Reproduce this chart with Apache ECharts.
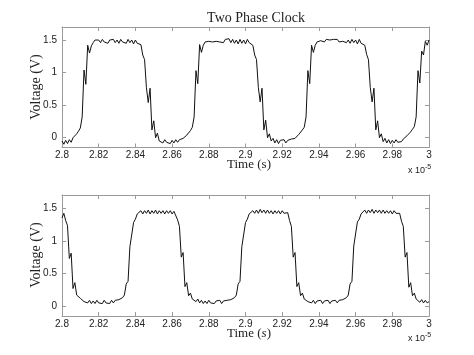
<!DOCTYPE html>
<html>
<head>
<meta charset="utf-8">
<script src="https://cdn.jsdelivr.net/npm/echarts@6/dist/echarts.min.js"></script>
<style>
html,body{margin:0;padding:0;background:#fff;}
#chart{width:474px;height:355px;}
</style>
</head>
<body>
<div id="chart"></div>
<script>
// Time axis samples (x 10^-5 s)
var time = [
2.800,2.801,2.802,2.803,2.804,2.805,2.806,2.807,2.808,2.809,
2.810,2.811,2.812,2.813,2.814,2.815,2.816,2.817,2.818,2.819,
2.820,2.821,2.822,2.823,2.824,2.825,2.826,2.827,2.828,2.829,
2.830,2.831,2.832,2.833,2.834,2.835,2.836,2.837,2.838,2.839,
2.840,2.841,2.842,2.843,2.844,2.845,2.846,2.847,2.848,2.849,
2.850,2.851,2.852,2.853,2.854,2.855,2.856,2.857,2.858,2.859,
2.860,2.861,2.862,2.863,2.864,2.865,2.866,2.867,2.868,2.869,
2.870,2.871,2.872,2.873,2.874,2.875,2.876,2.877,2.878,2.879,
2.880,2.881,2.882,2.883,2.884,2.885,2.886,2.887,2.888,2.889,
2.890,2.891,2.892,2.893,2.894,2.895,2.896,2.897,2.898,2.899,
2.900,2.901,2.902,2.903,2.904,2.905,2.906,2.907,2.908,2.909,
2.910,2.911,2.912,2.913,2.914,2.915,2.916,2.917,2.918,2.919,
2.920,2.921,2.922,2.923,2.924,2.925,2.926,2.927,2.928,2.929,
2.930,2.931,2.932,2.933,2.934,2.935,2.936,2.937,2.938,2.939,
2.940,2.941,2.942,2.943,2.944,2.945,2.946,2.947,2.948,2.949,
2.950,2.951,2.952,2.953,2.954,2.955,2.956,2.957,2.958,2.959,
2.960,2.961,2.962,2.963,2.964,2.965,2.966,2.967,2.968,2.969,
2.970,2.971,2.972,2.973,2.974,2.975,2.976,2.977,2.978,2.979,
2.980,2.981,2.982,2.983,2.984,2.985,2.986,2.987,2.988,2.989,
2.990,2.991,2.992,2.993,2.994,2.995,2.996,2.997,2.998,2.999,
3.000
];

// Phase 1 voltage (V), top plot
var phase1 = [
-0.05,-0.10,-0.04,-0.09,-0.03,-0.07,0.00,0.03,0.06,0.10,
0.15,0.32,1.04,0.82,1.42,1.30,1.41,1.46,1.50,1.47,
1.50,1.46,1.51,1.47,1.50,1.45,1.50,1.48,1.51,1.46,
1.50,1.45,1.51,1.47,1.50,1.45,1.51,1.46,1.50,1.44,
1.50,1.45,1.47,1.43,1.27,1.20,0.77,0.54,0.76,0.12,
0.26,0.00,0.07,-0.05,-0.02,-0.08,-0.03,-0.07,-0.04,-0.09,
-0.04,-0.08,-0.03,-0.07,-0.03,-0.06,-0.01,0.01,0.04,0.07,
0.11,0.16,0.32,1.03,0.83,1.43,1.31,1.42,1.47,1.50,
1.48,1.51,1.47,1.50,1.48,1.51,1.47,1.50,1.46,1.51,
1.48,1.52,1.46,1.51,1.45,1.50,1.44,1.51,1.45,1.50,
1.44,1.51,1.46,1.47,1.42,1.27,1.20,0.77,0.55,0.76,
0.12,0.27,0.00,0.06,-0.05,-0.01,-0.08,-0.03,-0.09,-0.04,
-0.07,-0.03,-0.08,-0.04,-0.07,-0.02,-0.05,-0.01,0.02,0.05,
0.08,0.12,0.16,0.32,1.03,0.83,1.42,1.31,1.42,1.47,
1.50,1.49,1.51,1.47,1.51,1.48,1.50,1.47,1.51,1.48,
1.51,1.47,1.50,1.48,1.51,1.46,1.50,1.45,1.51,1.46,
1.50,1.44,1.51,1.45,1.47,1.42,1.28,1.20,0.77,0.55,
0.76,0.12,0.26,0.00,0.06,-0.06,-0.01,-0.08,-0.03,-0.09,
-0.04,-0.08,-0.03,-0.07,-0.04,-0.06,-0.02,-0.01,0.03,0.06,
0.09,0.13,0.17,0.32,1.03,0.84,1.33,1.27,1.48,1.42,
1.50
];

// Phase 2 voltage (V), bottom plot
var phase2 = [
1.35,1.42,1.31,1.23,0.73,0.81,0.27,0.36,0.17,0.20,
0.12,0.14,0.07,0.10,0.05,0.09,0.04,0.08,0.04,0.09,
0.05,0.08,0.04,0.09,0.05,0.08,0.04,0.09,0.05,0.09,
0.06,0.10,0.09,0.13,0.17,0.34,0.38,0.91,0.94,1.28,
1.33,1.41,1.43,1.46,1.41,1.46,1.42,1.47,1.41,1.46,
1.42,1.47,1.41,1.46,1.42,1.46,1.41,1.46,1.42,1.46,
1.41,1.45,1.43,1.32,1.22,0.75,0.82,0.30,0.36,0.16,
0.20,0.11,0.14,0.07,0.11,0.05,0.09,0.04,0.08,0.04,
0.09,0.05,0.08,0.04,0.08,0.05,0.09,0.04,0.08,0.05,
0.09,0.06,0.10,0.09,0.13,0.17,0.34,0.38,0.91,0.94,
1.28,1.33,1.41,1.43,1.46,1.42,1.47,1.42,1.48,1.43,
1.47,1.42,1.47,1.42,1.46,1.41,1.46,1.42,1.46,1.41,
1.46,1.42,1.45,1.43,1.31,1.22,0.75,0.82,0.30,0.36,
0.16,0.20,0.11,0.14,0.07,0.10,0.05,0.09,0.04,0.08,
0.05,0.09,0.04,0.08,0.05,0.09,0.04,0.08,0.05,0.09,
0.05,0.09,0.06,0.10,0.09,0.13,0.17,0.34,0.38,0.92,
0.94,1.29,1.33,1.41,1.43,1.47,1.42,1.47,1.43,1.48,
1.42,1.47,1.43,1.47,1.42,1.47,1.42,1.46,1.42,1.46,
1.41,1.46,1.42,1.45,1.42,1.30,1.22,0.75,0.82,0.29,
0.36,0.16,0.20,0.11,0.14,0.06,0.10,0.05,0.09,0.05,
0.07
];

var xTicks = [2.8,2.82,2.84,2.86,2.88,2.9,2.92,2.94,2.96,2.98,3];
var yTicks = [0,0.5,1,1.5];
var titleText = 'Two Phase Clock';
var yName = 'Voltage (V)';
var xNameTop = 'Time (s)';
var xNameBottom = 'Time ({i|s})';

var BOX = '#9a9a9a';
var TXT = '#222';
var SANS = 'Liberation Sans, Arial, sans-serif';
var SERIF = 'Liberation Serif, Times New Roman, serif';

function pairs(xs, ys){ var out=[]; for(var i=0;i<xs.length;i++){ out.push([xs[i], ys[i]]); } return out; }
function fmt(v){ return String(parseFloat(Number(v).toFixed(2))); }

function xAx(grid, pos){
  var main = pos === 'bottom';
  return {
    type:'value', gridIndex:grid, position:pos, min:2.8, max:3.0,
    axisLine:{show:true, onZero:false, lineStyle:{color:BOX, width:1}},
    axisTick:{show:true, inside:true, length:4, customValues:xTicks, lineStyle:{color:BOX}},
    axisLabel:{show:main, customValues:xTicks, formatter:fmt, color:TXT, fontFamily:SANS, fontSize:10, margin:3},
    splitLine:{show:false}
  };
}
function yAx(grid, pos){
  var main = pos === 'left';
  return {
    type:'value', gridIndex:grid, position:pos, min:-0.15, max:1.7,
    axisLine:{show:true, onZero:false, lineStyle:{color:BOX, width:1}},
    axisTick:{show:true, inside:true, length:4, customValues:yTicks, lineStyle:{color:BOX}},
    axisLabel:{show:main, customValues:yTicks, formatter:fmt, color:TXT, fontFamily:SANS, fontSize:10, margin:5},
    splitLine:{show:false}
  };
}
function txt(x, y, s, font, rot){
  return {type:'text', x:x, y:y, rotation:rot||0, silent:true,
    style:{text:s, textAlign:'center', textVerticalAlign:'middle', fill:TXT, font:font,
      rich:{i:{fontStyle:'italic', fontFamily:SERIF, fontSize:13, fill:TXT, color:TXT}}}};
}

var chart = echarts.init(document.getElementById('chart'), null, {renderer:'canvas'});
chart.setOption({
  animation:false,
  backgroundColor:'#fff',
  grid:[
    {left:62, top:27, width:367, height:120.5, show:false},
    {left:62, top:195, width:367, height:121, show:false}
  ],
  xAxis:[ xAx(0,'bottom'), xAx(0,'top'), xAx(1,'bottom'), xAx(1,'top') ],
  yAxis:[ yAx(0,'left'), yAx(0,'right'), yAx(1,'left'), yAx(1,'right') ],
  graphic:[
    txt(256, 18, titleText, '14px ' + SERIF),
    txt(36, 87, yName, '14px ' + SERIF, Math.PI/2),
    txt(36, 255, yName, '14px ' + SERIF, Math.PI/2),
    txt(249, 165, xNameTop, '13px ' + SERIF),
    txt(249, 334, xNameBottom, '13px ' + SERIF),
    {type:'text', x:408, y:171, silent:true, style:{text:'x 10', textAlign:'left', textVerticalAlign:'middle', fill:TXT, font:'9px ' + SANS}},
    {type:'text', x:425, y:167, silent:true, style:{text:'-5', textAlign:'left', textVerticalAlign:'middle', fill:TXT, font:'7px ' + SANS}},
    {type:'text', x:408, y:339, silent:true, style:{text:'x 10', textAlign:'left', textVerticalAlign:'middle', fill:TXT, font:'9px ' + SANS}},
    {type:'text', x:425, y:335, silent:true, style:{text:'-5', textAlign:'left', textVerticalAlign:'middle', fill:TXT, font:'7px ' + SANS}}
  ],
  series:[
    {type:'line', xAxisIndex:0, yAxisIndex:0, data:pairs(time, phase1), showSymbol:false, symbol:'none',
     lineStyle:{color:'#111', width:1}, silent:true},
    {type:'line', xAxisIndex:2, yAxisIndex:2, data:pairs(time, phase2), showSymbol:false, symbol:'none',
     lineStyle:{color:'#111', width:1}, silent:true}
  ]
});
</script>
</body>
</html>
